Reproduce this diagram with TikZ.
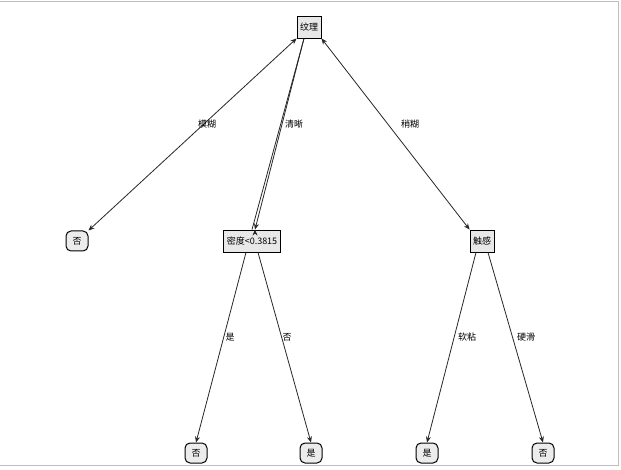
\documentclass[tikz,border=0pt]{standalone}
\usepackage{fontspec}
\setmainfont{Noto Sans CJK SC}
\usetikzlibrary{arrows.meta}
\begin{document}
\begin{tikzpicture}[x=1pt,y=-1pt,
  dec/.style={draw=black,line width=0.9pt,fill=gray!18,inner sep=3pt,minimum height=22pt,font=\small},
  leaf/.style={draw=black,line width=1pt,fill=gray!15,rounded corners=5pt,inner sep=2.5pt,minimum width=22pt,minimum height=20pt,font=\small},
  edge/.style={draw=black!85,line width=0.8pt,-{Stealth[length=6pt,width=5pt]}},
  both/.style={draw=black!85,line width=0.8pt,{Stealth[length=6pt,width=5pt]}-{Stealth[length=6pt,width=5pt]}},
  lab/.style={font=\small,inner sep=1pt}]
\useasboundingbox (0,0) rectangle (621,470);
\draw[gray!50,line width=1pt] (-2,2) -- (618,2) -- (618,465) -- (-2,465);
\node[dec] (root) at (309,27) {纹理};
\node[leaf] (l1) at (77,241) {否};
\node[dec] (mid) at (252,241) {密度<0.3815};
\node[dec] (touch) at (482,241) {触感};
\node[leaf] (a) at (196,453) {否};
\node[leaf] (b) at (311,453) {是};
\node[leaf] (c) at (427,453) {是};
\node[leaf] (d) at (543,453) {否};
\draw[both] (root.south west) -- (l1.north east);
\draw[edge] (root.south) ++(-5,0) coordinate (rs) -- (mid.north) ++(3,0) coordinate (mn);
\draw[edge] (rs) -- (mn);
\draw[both] (root.south east) -- (touch.north west);
\draw[edge] ([xshift=-6pt]mid.south) -- (a.north);
\draw[edge] ([xshift=6pt]mid.south) -- (b.north);
\draw[edge] ([xshift=-6pt]touch.south) -- (c.north);
\draw[edge] ([xshift=6pt]touch.south) -- (d.north);
\node[lab] (t1) at (207,124) {模糊};
\node[lab] (t2) at (294,124) {清晰};
\node[lab] (t3) at (410,124) {稍糊};
\node[lab] (t4) at (230,337) {是};
\node[lab] (t5) at (287,337) {否};
\node[lab] (t6) at (467,337) {软粘};
\node[lab] (t7) at (526,337) {硬滑};
\end{tikzpicture}
\end{document}
